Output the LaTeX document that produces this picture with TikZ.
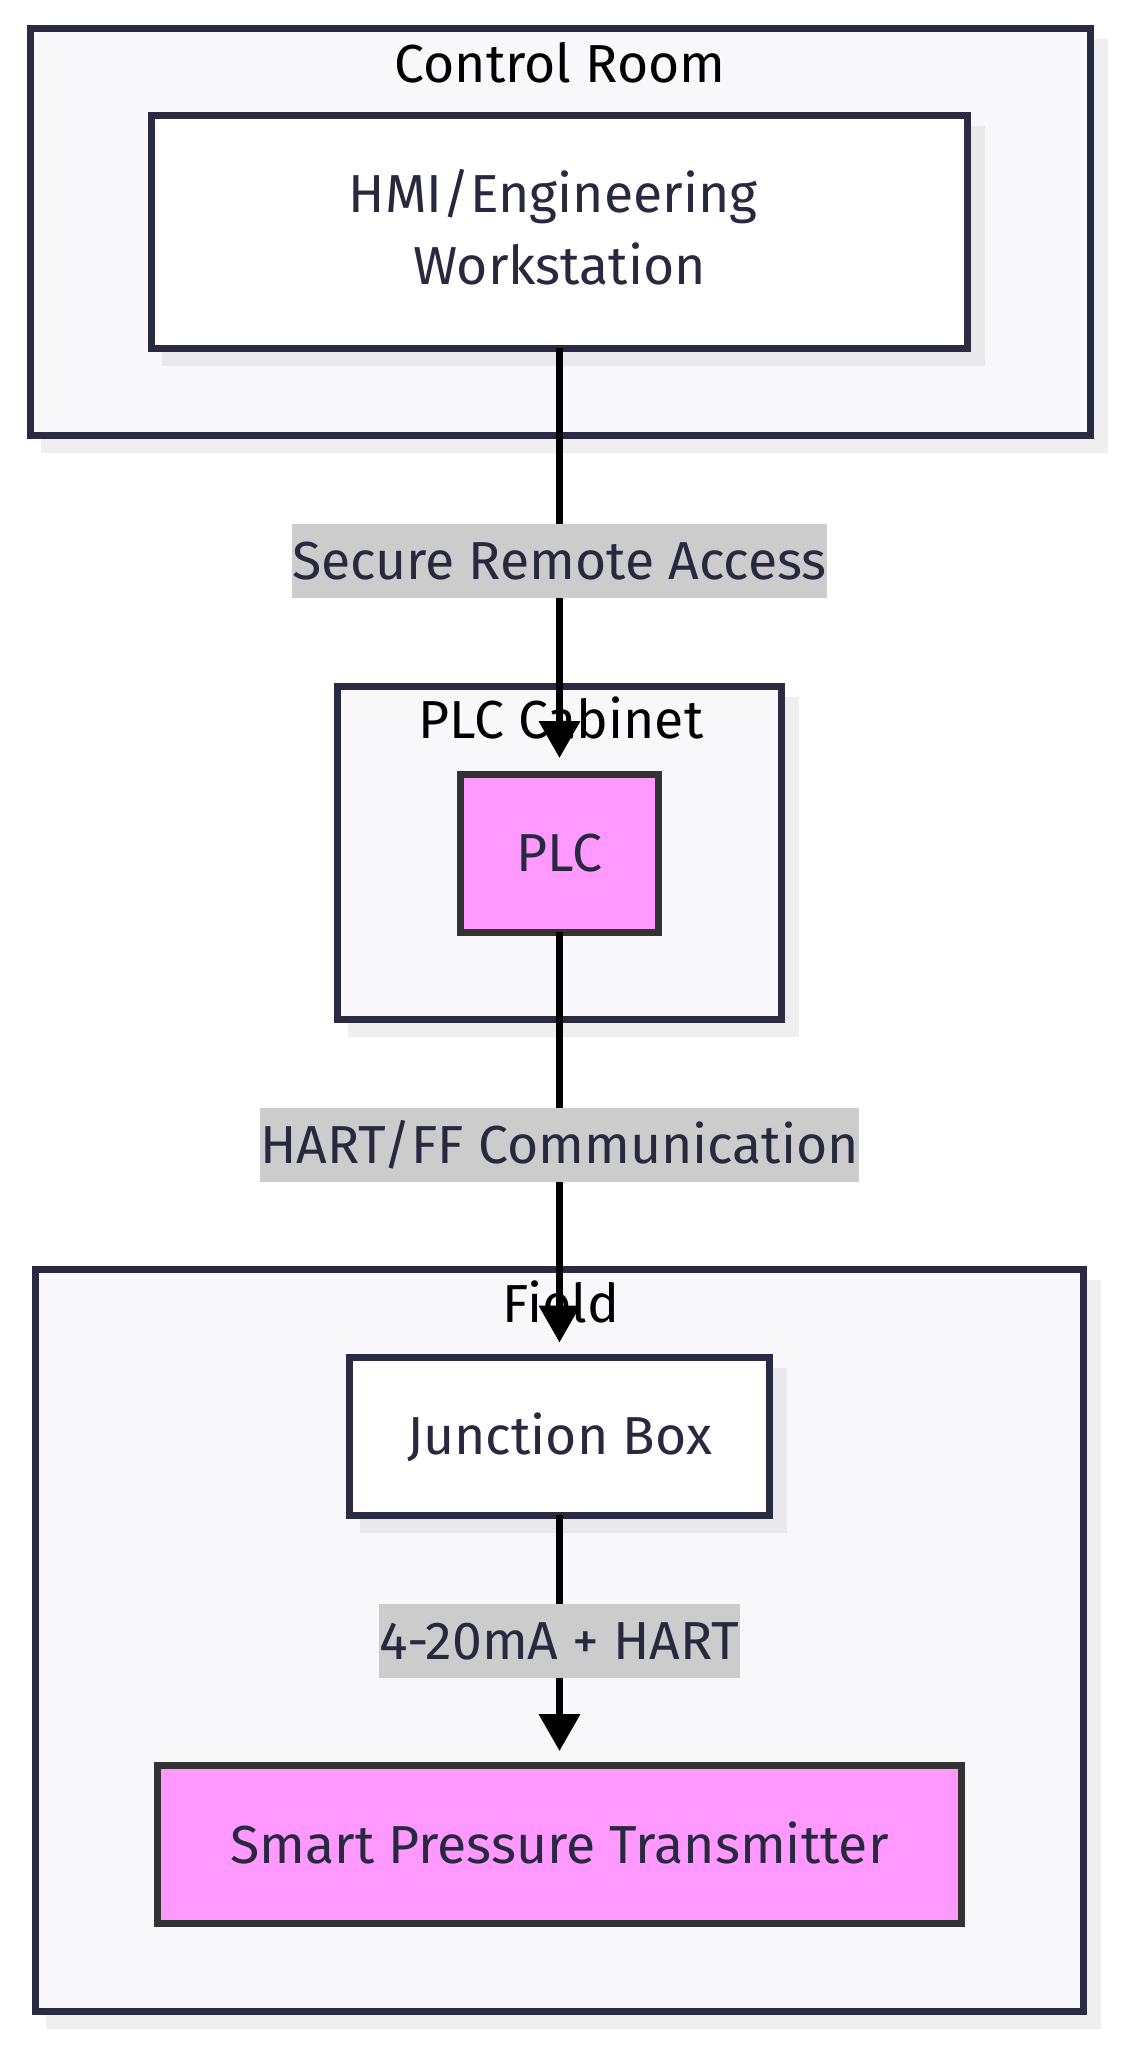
\documentclass[tikz,border=0pt]{standalone}
\usepackage{fontspec}
\setmainfont{Fira Sans}
\usetikzlibrary{arrows.meta,shadows}
\definecolor{clfill}{HTML}{F8F8FA}
\definecolor{navy}{HTML}{2A2A42}
\definecolor{plcpink}{HTML}{FF99FF}
\definecolor{pinkborder}{HTML}{333333}
\definecolor{shcl}{HTML}{EFEFEF}
\definecolor{shnd}{HTML}{E9E9EB}
\definecolor{lblbg}{HTML}{CCCCCC}
\definecolor{txtc}{HTML}{28283F}
\begin{document}
\begin{tikzpicture}[x=1pt,y=-1pt,
  every node/.style={font=\fontsize{53.5}{72}\selectfont, outer sep=0pt, inner sep=0pt},
  cluster/.style={draw=navy, fill=clfill, line width=7pt,
    drop shadow={shadow xshift=14pt, shadow yshift=-14pt, fill=shcl, draw=shcl, line width=7pt, opacity=1}},
  titletext/.style={anchor=base, text=black},
  plainbox/.style={draw=navy, fill=white, line width=7pt, text=txtc, text height=37pt, text depth=0pt,
    drop shadow={shadow xshift=14pt, shadow yshift=-14pt, fill=shnd, draw=shnd, line width=7pt, opacity=1}},
  pinkbox/.style={draw=pinkborder, fill=plcpink, line width=7pt, text=txtc, text height=37pt, text depth=0pt},
  nodetext/.style={anchor=base, text=txtc},
  edge/.style={draw=black, line width=7pt, -{Triangle[width=40pt,length=37pt]}},
  edgelabel/.style={fill=lblbg, text=txtc, minimum height=74pt, text height=37pt, text depth=0pt}
]
\useasboundingbox (0,0) rectangle (1123,2048);
\fill[white] (0,0) rectangle (1123,2048);

% clusters
\node[cluster, minimum width=1060pt, minimum height=407pt] (ctrl) at (560.5,231.5) {};
\node[titletext] (ctrlt) at (560,82) {Control Room};
\node[cluster, minimum width=444.5pt, minimum height=333pt] (cab) at (559.25,853) {};
\node[titletext] (cabt) at (561,738) {PLC Cabinet};
\node[cluster, minimum width=1047.5pt, minimum height=742pt] (field) at (559.25,1640.5) {};
\node[titletext] (fieldt) at (561,1322) {Field};

% nodes
\node[plainbox, minimum width=816pt, minimum height=232.5pt] (hmi) at (559.5,231.75) {};
\node[nodetext] (hmi1) at (553,212) {HMI/Engineering};
\node[nodetext] (hmi2) at (559.5,284) {Workstation};
\node[pinkbox, minimum width=198pt, minimum height=158pt] (plc) at (559.5,853) {PLC};
\node[plainbox, minimum width=420pt, minimum height=157.5pt] (jb) at (559.5,1436.25) {Junction Box};
\node[pinkbox, minimum width=804pt, minimum height=158pt] (spt) at (559.5,1844.5) {Smart Pressure Transmitter};

% edges
\draw[edge, shorten >=16pt] (hmi.south) -- (plc.north);
\draw[edge, shorten >=15pt] (plc.south) -- (jb.north);
\draw[edge, shorten >=14.5pt] (jb.south) -- (spt.north);

% edge labels
\node[edgelabel] (l1) at (559.5,561) {Secure Remote Access};
\node[edgelabel] (l2) at (559.5,1144.5) {HART/FF Communication};
\node[edgelabel] (l3) at (559.5,1640.5) {4-20mA + HART};
\end{tikzpicture}
\end{document}
